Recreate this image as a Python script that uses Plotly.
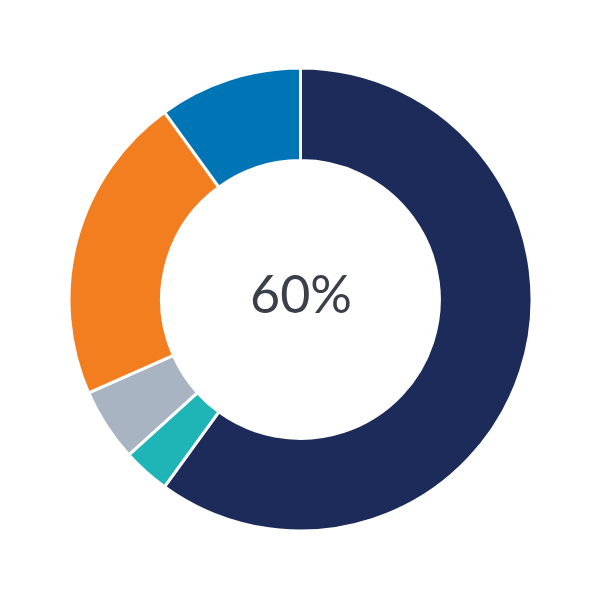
import plotly.graph_objects as go

labels = ["Navy", "Teal", "Gray", "Orange", "Blue"]
values = [60, 3.3, 5.1, 21.6, 10]
colors = ["#1c2b5a", "#1fb5b6", "#a9b4c2", "#f27e20", "#0075b5"]
center_text = "60%"

fig = go.Figure(go.Pie(
    labels=labels,
    values=values,
    hole=0.6,
    sort=False,
    direction="clockwise",
    rotation=0,
    textinfo="none",
    hoverinfo="label+percent",
    marker=dict(colors=colors, line=dict(color="white", width=3)),
    showlegend=False,
))
fig.add_annotation(
    text=center_text, x=0.5, y=0.5, xref="paper", yref="paper", yshift=7,
    showarrow=False, font=dict(family="Lato", size=52, color="#3b3f4a"),
)
fig.update_layout(
    width=600, height=599,
    margin=dict(l=61, r=76, t=60, b=76),
    paper_bgcolor="white", plot_bgcolor="white",
)
fig.write_html("out.html")
